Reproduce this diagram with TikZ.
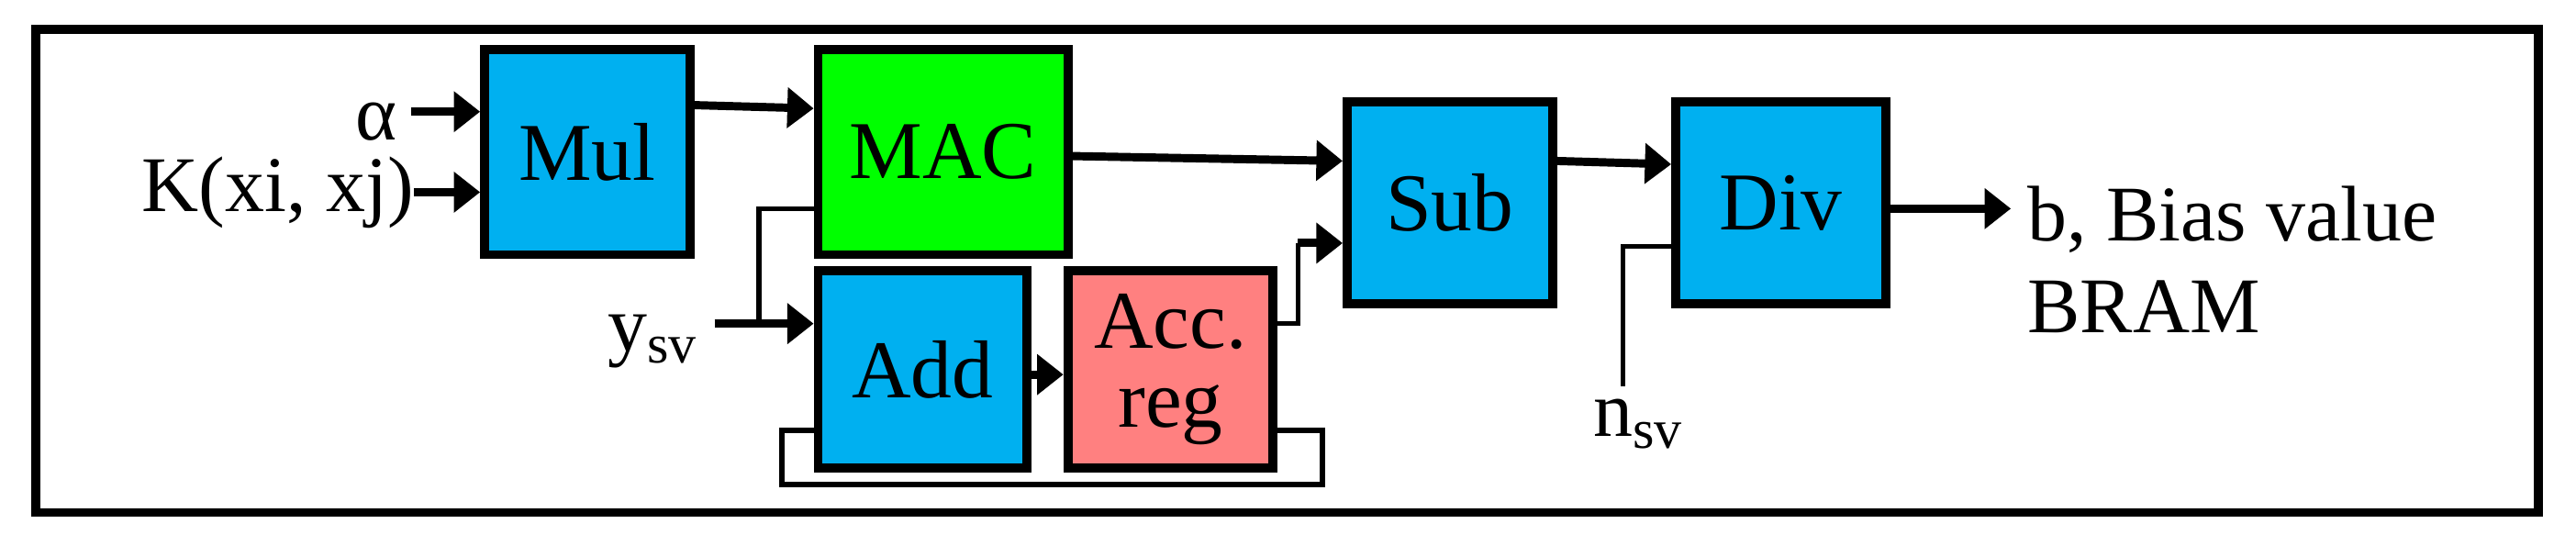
\documentclass[tikz,border=0pt]{standalone}
\usepackage{fontspec}
\setmainfont{Liberation Serif}
\usetikzlibrary{arrows.meta}
\definecolor{blk}{RGB}{0,176,240}
\definecolor{macg}{RGB}{0,255,0}
\definecolor{accr}{RGB}{255,128,128}
\begin{document}
\begin{tikzpicture}[x=1pt,y=-1pt,
  block/.style={draw,line width=5.5pt,minimum width=#1,inner sep=0pt,
    font=\fontsize{50}{50}\selectfont,align=center},
  block/.default=125pt,
  line/.style={line width=5pt,-{Triangle[length=16pt,width=24pt]}},
  thin/.style={line width=3pt},
  lbl/.style={font=\fontsize{48}{56}\selectfont,inner sep=0pt}
]
\useasboundingbox (0,0) rectangle (1568,332);
\draw[line width=5.5pt] (22,18) rectangle (1545,312);
\node[block,fill=blk,minimum height=125pt] (mul) at (357.5,92.5) {Mul};
\node[block=152pt,fill=macg,minimum height=125pt] (mac) at (574,92.5) {MAC};
\node[block=127pt,fill=blk,minimum height=120pt] (add) at (561.5,225) {Add};
\node[block,fill=accr,minimum height=120pt] (acc) at (712.5,225) {Acc.\\[-2pt]reg};
\node[block,fill=blk,minimum height=123pt] (sub) at (882.5,123.5) {Sub};
\node[block=128pt,fill=blk,minimum height=123pt] (div) at (1084,123.5) {Div};

\node[lbl,anchor=east] (alpha) at (242,74) {α};
\node[lbl,anchor=east] (k) at (252,117) {K(xi, xj)};
\node[lbl] (ysv) at (397,208) {y\textsubscript{sv}};
\node[lbl] (nsv) at (997,258) {n\textsubscript{sv}};
\node[lbl,anchor=west,align=left] (b) at (1234,158) {b, Bias value\\BRAM};

\coordinate (ys) at (435,197);
\coordinate (ns) at (988,235);
\draw[line] (250,68) -- (mul.west |- 0,68);
\draw[line] (k.east |- 0,117) -- (mul.west |- 0,117);
\draw[line] (mul.east |- 0,64) -- (mac.west |- 0,66);
\draw[line] (mac.east |- 0,95) -- (sub.west |- 0,98);
\draw[line] (sub.east |- 0,98) -- (div.west |- 0,100);
\draw[line] (ys) -- (add.west |- ys);
\draw[thin] (mac.west |- 0,127) -- (462,127) -- (462,197);
\draw[line] (add.east |- 0,228) -- (acc.west |- 0,228);
\draw[thin] (acc.east |- 0,197) -- (790,197) -- (790,148);
\draw[line] (790,148) -- (sub.west |- 0,148);
\draw[thin] (acc.east |- 0,262) -- (805,262) -- (805,295) -- (476,295)
  -- (476,262) -- (add.west |- 0,262);
\draw[thin] (ns) -- (988,150) -- (div.west |- 0,150);
\draw[line] (div.east |- 0,127) -- ([xshift=-10pt]b.west |- 0,127);
\end{tikzpicture}
\end{document}
